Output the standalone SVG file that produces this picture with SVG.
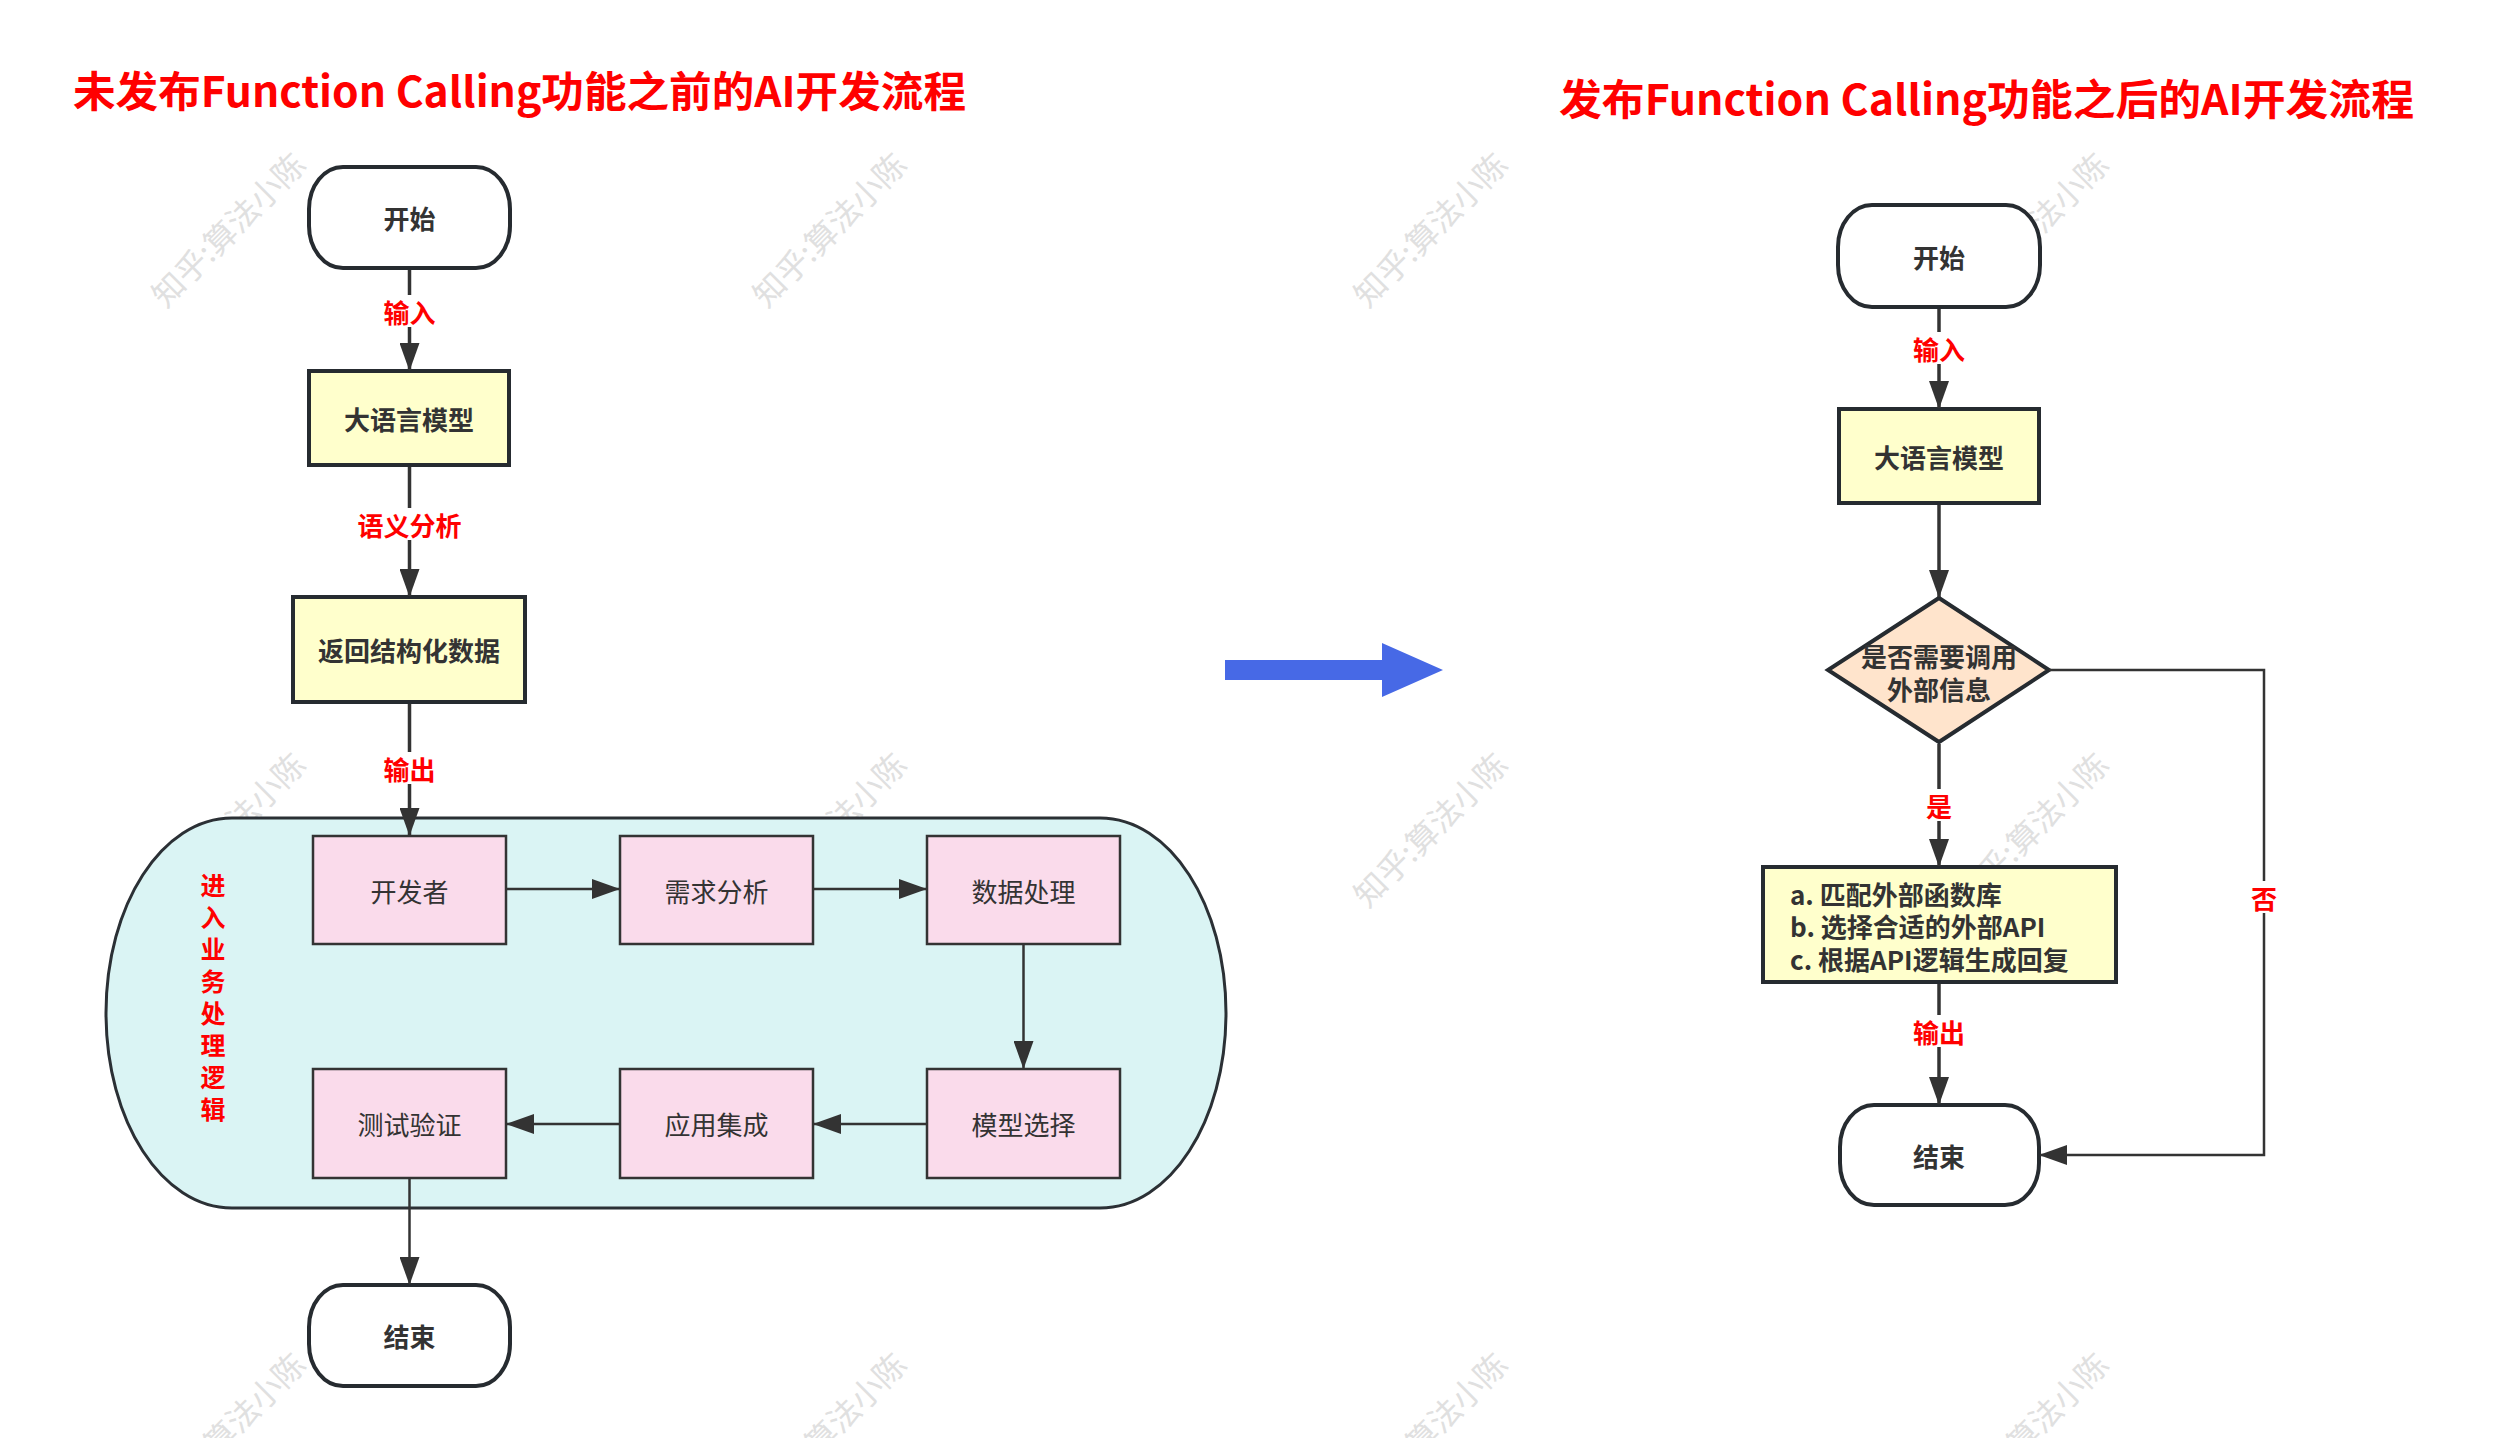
<svg xmlns="http://www.w3.org/2000/svg" width="2498" height="1438" viewBox="0 0 2498 1438">
<style>
text{font-family:"Noto Sans CJK SC","Noto Sans",sans-serif;}
.wm{font-size:32px;fill:#e0e0e0;text-anchor:middle;dominant-baseline:central;}
.title{font-size:42px;font-weight:bold;fill:#ff0000;dominant-baseline:central;}
.nb{font-size:26px;font-weight:bold;fill:#333333;text-anchor:middle;dominant-baseline:central;}
.nl{font-size:26px;font-weight:bold;fill:#333333;text-anchor:start;dominant-baseline:central;}
.nr{font-size:26px;fill:#333333;text-anchor:middle;dominant-baseline:central;}
.lbl{font-size:26px;font-weight:bold;fill:#ff0000;text-anchor:middle;dominant-baseline:central;}
.vl{font-size:25px;font-weight:bold;fill:#ff0000;text-anchor:middle;dominant-baseline:central;}
.term{fill:#ffffff;stroke:#262b30;stroke-width:4;}
.ybox{fill:#ffffcc;stroke:#262b30;stroke-width:4;}
.pbox{fill:#fadbeb;stroke:#333333;stroke-width:2.5;}
.edge{stroke:#333333;stroke-width:3.5;fill:none;marker-end:url(#arr);}
.edge2{stroke:#333333;stroke-width:2.5;fill:none;marker-end:url(#arr);}
.lbg{fill:#ffffff;}
</style>
<defs>
<marker id="arr" markerUnits="userSpaceOnUse" markerWidth="28" markerHeight="20" refX="27" refY="10" orient="auto">
<path d="M0,0 L28,10 L0,20 Z" fill="#333333"/>
</marker>
</defs>
<rect x="0" y="0" width="2498" height="1438" fill="#ffffff"/>

<g id="watermarks">
<text class="wm" transform="translate(227,228) rotate(-45)">知乎:算法小陈</text>
<text class="wm" transform="translate(828,228) rotate(-45)">知乎:算法小陈</text>
<text class="wm" transform="translate(1429,228) rotate(-45)">知乎:算法小陈</text>
<text class="wm" transform="translate(2030,228) rotate(-45)">知乎:算法小陈</text>
<text class="wm" transform="translate(227,828) rotate(-45)">知乎:算法小陈</text>
<text class="wm" transform="translate(828,828) rotate(-45)">知乎:算法小陈</text>
<text class="wm" transform="translate(1429,828) rotate(-45)">知乎:算法小陈</text>
<text class="wm" transform="translate(2030,828) rotate(-45)">知乎:算法小陈</text>
<text class="wm" transform="translate(227,1428) rotate(-45)">知乎:算法小陈</text>
<text class="wm" transform="translate(828,1428) rotate(-45)">知乎:算法小陈</text>
<text class="wm" transform="translate(1429,1428) rotate(-45)">知乎:算法小陈</text>
<text class="wm" transform="translate(2030,1428) rotate(-45)">知乎:算法小陈</text>
</g>

<g id="titles">
<text class="title" x="73" y="88" textLength="893" lengthAdjust="spacingAndGlyphs">未发布Function Calling功能之前的AI开发流程</text>
<text class="title" x="1559" y="96" textLength="855" lengthAdjust="spacingAndGlyphs">发布Function Calling功能之后的AI开发流程</text>
</g>

<g id="container-business">
<path d="M232,818 L1100,818 C1170,818 1226,905 1226,1013 C1226,1121 1170,1208 1100,1208 L232,1208 C162,1208 106,1121 106,1013 C106,905 162,818 232,818 Z" fill="#daf4f4" stroke="#2b3035" stroke-width="3"/>
<text class="vl" x="213"><tspan x="213" y="884">进</tspan><tspan x="213" y="916">入</tspan><tspan x="213" y="948">业</tspan><tspan x="213" y="980">务</tspan><tspan x="213" y="1012">处</tspan><tspan x="213" y="1044">理</tspan><tspan x="213" y="1076">逻</tspan><tspan x="213" y="1108">辑</tspan></text>
</g>

<g id="left-start">
<rect class="term" x="309" y="167" width="201" height="101" rx="34" ry="42"/>
<text class="nb" x="409.5" y="217.5">开始</text>
</g>
<g id="left-llm">
<rect class="ybox" x="309" y="371" width="200" height="94"/>
<text class="nb" x="409" y="418">大语言模型</text>
</g>
<g id="left-structured">
<rect class="ybox" x="293" y="597" width="232" height="105"/>
<text class="nb" x="409" y="649.5">返回结构化数据</text>
</g>
<g id="left-developer">
<rect class="pbox" x="313" y="836" width="193" height="108"/>
<text class="nr" x="409.5" y="890">开发者</text>
</g>
<g id="left-requirement">
<rect class="pbox" x="620" y="836" width="193" height="108"/>
<text class="nr" x="716.5" y="890">需求分析</text>
</g>
<g id="left-data">
<rect class="pbox" x="927" y="836" width="193" height="108"/>
<text class="nr" x="1023.5" y="890">数据处理</text>
</g>
<g id="left-model">
<rect class="pbox" x="927" y="1069" width="193" height="109"/>
<text class="nr" x="1023.5" y="1123.5">模型选择</text>
</g>
<g id="left-integration">
<rect class="pbox" x="620" y="1069" width="193" height="109"/>
<text class="nr" x="716.5" y="1123.5">应用集成</text>
</g>
<g id="left-test">
<rect class="pbox" x="313" y="1069" width="193" height="109"/>
<text class="nr" x="409.5" y="1123.5">测试验证</text>
</g>
<g id="left-end">
<rect class="term" x="309" y="1285" width="201" height="101" rx="34" ry="42"/>
<text class="nb" x="409.5" y="1335.5">结束</text>
</g>

<g id="transition-arrow">
<polygon points="1225,660 1382,660 1382,643 1443,670 1382,697 1382,680 1225,680" fill="#4769e6"/>
</g>

<g id="right-start">
<rect class="term" x="1838" y="205" width="202" height="102" rx="34" ry="42"/>
<text class="nb" x="1939" y="256">开始</text>
</g>
<g id="right-llm">
<rect class="ybox" x="1839" y="409" width="200" height="94"/>
<text class="nb" x="1939" y="456">大语言模型</text>
</g>
<g id="right-decision">
<polygon points="1939,598 2049,670 1939,742 1828,670" fill="#ffe4cc" stroke="#262b30" stroke-width="4"/>
<text class="nb" x="1939" y="655">是否需要调用</text>
<text class="nb" x="1939" y="688">外部信息</text>
</g>
<g id="right-api">
<rect class="ybox" x="1763" y="867" width="353" height="115"/>
<text class="nl" x="1790" y="893">a. 匹配外部函数库</text>
<text class="nl" x="1790" y="925">b. 选择合适的外部API</text>
<text class="nl" x="1790" y="958">c. 根据API逻辑生成回复</text>
</g>
<g id="right-end">
<rect class="term" x="1840" y="1105" width="199" height="100" rx="34" ry="42"/>
<text class="nb" x="1939" y="1155">结束</text>
</g>

<g id="connectors">
<line class="edge" x1="409.5" y1="270" x2="409.5" y2="370"/>
<line class="edge" x1="409.5" y1="467" x2="409.5" y2="596"/>
<line class="edge" x1="409.5" y1="704" x2="409.5" y2="835"/>
<line class="edge2" x1="506" y1="889" x2="619" y2="889"/>
<line class="edge2" x1="813" y1="889" x2="926" y2="889"/>
<line class="edge2" x1="1023.5" y1="944" x2="1023.5" y2="1068"/>
<line class="edge2" x1="927" y1="1124" x2="814" y2="1124"/>
<line class="edge2" x1="620" y1="1124" x2="507" y2="1124"/>
<line class="edge2" x1="409.5" y1="1178" x2="409.5" y2="1284"/>

<line class="edge" x1="1939" y1="309" x2="1939" y2="408"/>
<line class="edge" x1="1939" y1="505" x2="1939" y2="597"/>
<line class="edge" x1="1939" y1="744" x2="1939" y2="866"/>
<line class="edge" x1="1939" y1="984" x2="1939" y2="1104"/>
<polyline class="edge2" points="2049,670 2264,670 2264,1155 2040,1155"/>

<rect class="lbg" x="381" y="295" width="57" height="32"/>
<text class="lbl" x="409.5" y="311">输入</text>
<rect class="lbg" x="355" y="508" width="109" height="32"/>
<text class="lbl" x="409.5" y="524">语义分析</text>
<rect class="lbg" x="381" y="752" width="57" height="32"/>
<text class="lbl" x="409.5" y="768">输出</text>
<rect class="lbg" x="1910" y="332" width="58" height="32"/>
<text class="lbl" x="1939" y="348">输入</text>
<rect class="lbg" x="1923" y="789" width="32" height="32"/>
<text class="lbl" x="1939" y="805">是</text>
<rect class="lbg" x="1910" y="1015" width="58" height="32"/>
<text class="lbl" x="1939" y="1031">输出</text>
<rect class="lbg" x="2248" y="881" width="32" height="32"/>
<text class="lbl" x="2264" y="897">否</text>
</g>
</svg>
